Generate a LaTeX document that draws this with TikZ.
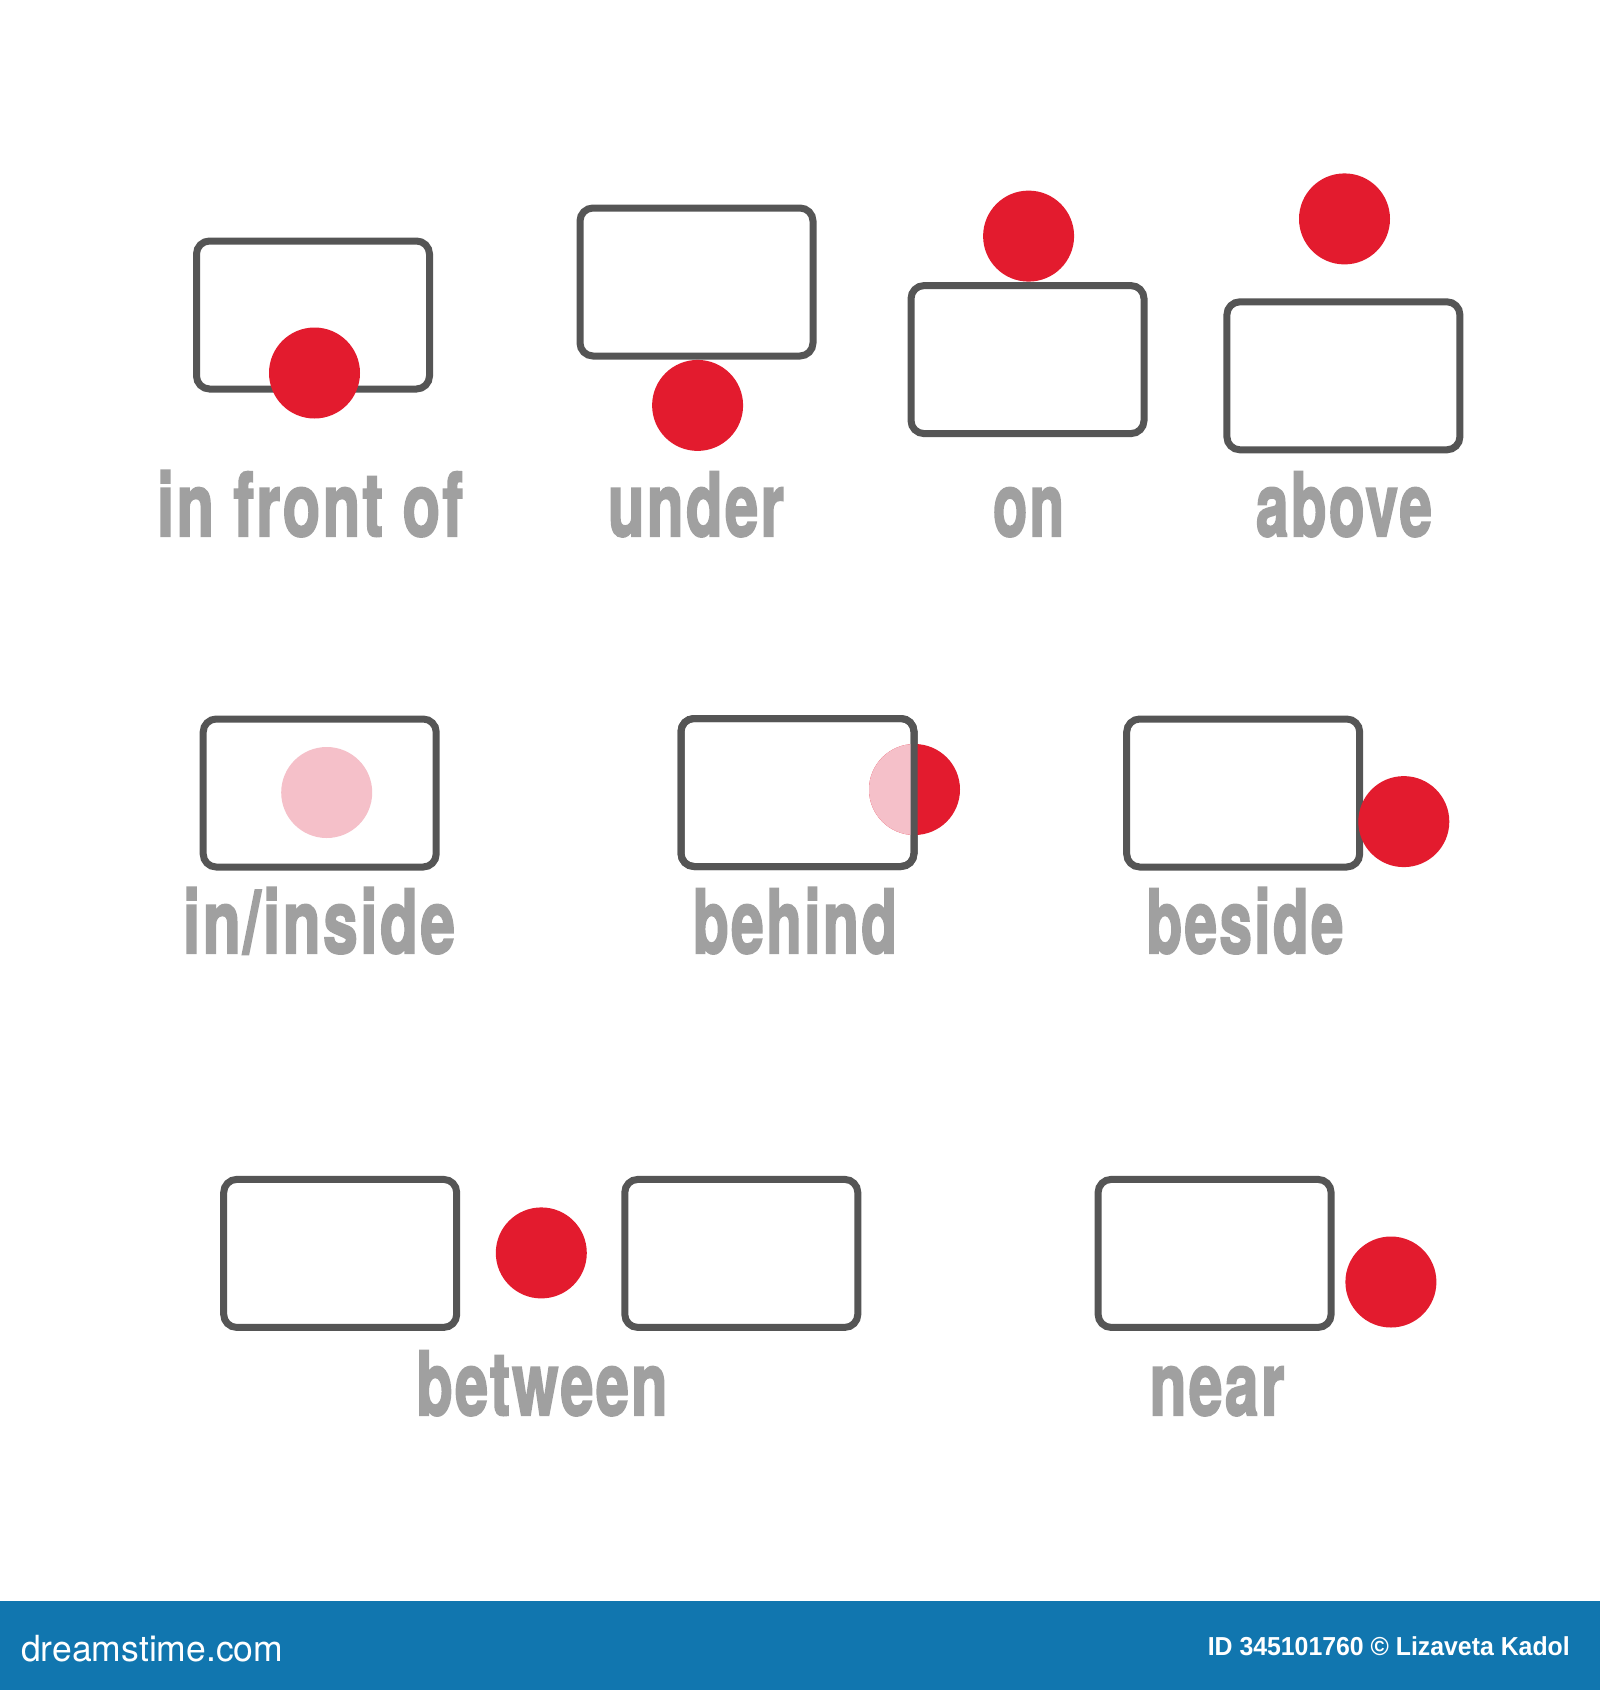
\documentclass[tikz,border=0pt]{standalone}
\usepackage{fontspec}
\usepackage{graphicx}
\setmainfont{TeX Gyre Heros}[BoldFeatures={FakeBold=2.6, LetterSpace=4}]
\newfontfamily\footfont{Liberation Sans}
\definecolor{boxgray}{HTML}{555555}
\definecolor{dotred}{HTML}{E31B2E}
\definecolor{dotpink}{HTML}{F5C0C9}
\definecolor{labgray}{HTML}{A0A0A0}
\definecolor{barblue}{HTML}{1176AF}
\newcommand\lab[2]{\resizebox{#1pt}{\height}{#2}}
\tikzset{
  box/.style={draw=boxgray, line width=7pt, rounded corners=13pt, minimum width=233pt, minimum height=148pt, inner sep=0pt, outer sep=0pt, fill=white},
  boxline/.style={draw=boxgray, line width=7pt, rounded corners=13pt},
  ball/.style={circle, fill=dotred, minimum size=91pt, inner sep=0pt},
  pinkball/.style={circle, fill=dotpink, minimum size=91pt, inner sep=0pt},
  lbl/.style={anchor=base, inner sep=0pt, text=labgray, font=\fontsize{88}{88}\selectfont\bfseries},
  foot/.style={anchor=base west, inner sep=0pt, text=white},
}
\begin{document}
\begin{tikzpicture}[x=1pt, y=-1pt]
\useasboundingbox (0,0) rectangle (1600,1690);
\fill[white] (0,0) rectangle (1600,1690);
% row 1
\node[box] (b1) at (313,315) {};
\node[ball] (c1) at (314.5,373) {};
\node[box] (b2) at (696.5,282) {};
\node[ball] (c2) at (697.6,405.4) {};
\node[box] (b3) at (1027.5,359.6) {};
\node[ball] (c3) at (1028.6,236.1) {};
\node[box] (b4) at (1343.4,375.8) {};
\node[ball] (c4) at (1344.5,218.9) {};
\node[lbl] (l1) at (310,536) {\lab{306}{in front of}};
\node[lbl] (l2) at (696,536) {\lab{176}{under}};
\node[lbl] (l3) at (1028.5,536) {\lab{71}{on}};
\node[lbl] (l4) at (1344,536) {\lab{176}{above}};
% row 2
\node[box] (b5) at (319.7,793) {};
\node[pinkball] (c5) at (326.7,792.5) {};
\node[box] (b6) at (797.5,792.5) {};
\node[ball] (c6) at (914.5,789.5) {};
\begin{scope}
  \clip[rounded corners=13pt] (b6.south west) rectangle (b6.north east);
  \fill[dotpink] (c6.center) circle (45.5);
\end{scope}
\draw[boxline] (b6.south west) rectangle (b6.north east);
\node[box] (b7) at (1243.2,793) {};
\node[ball] (c7) at (1403.8,821.6) {};
\node[lbl] (l5) at (319,953) {\lab{272}{in/inside}};
\node[lbl] (l6) at (795,953) {\lab{204}{behind}};
\node[lbl] (l7) at (1245,953) {\lab{197}{beside}};
% row 3
\node[box] (b8) at (340.2,1253.4) {};
\node[box] (b9) at (741.3,1253.4) {};
\node[ball] (c8) at (541.3,1252.9) {};
\node[box] (b10) at (1214.6,1253.4) {};
\node[ball] (c9) at (1390.9,1282) {};
\node[lbl] (l8) at (542,1415) {\lab{251}{between}};
\node[lbl] (l9) at (1217,1415) {\lab{135}{near}};
% footer bar
\fill[barblue] (0,1601) rectangle (1600,1690);
\node[foot, font=\fontsize{36}{36}\selectfont] (f1) at (21,1661) {\lab{262}{dreamstime.com}};
\node[foot, anchor=base east, font=\footfont\fontsize{26}{26}\selectfont\bfseries] (f2) at (1570,1655) {\lab{362}{ID 345101760 © Lizaveta Kadol}};
\end{tikzpicture}
\end{document}
